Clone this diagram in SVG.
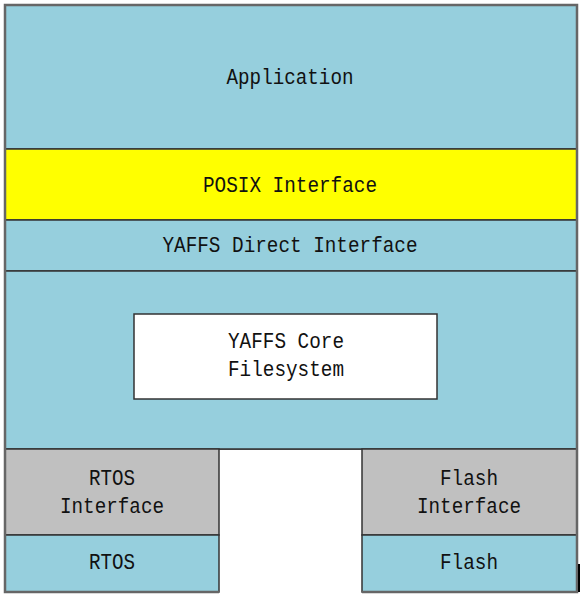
<svg xmlns="http://www.w3.org/2000/svg" width="582" height="600" viewBox="0 0 582 600">
<style>
.blue{fill:#96cfdd;stroke:#333;stroke-width:1.5}
.yellow{fill:#ffff00;stroke:#333;stroke-width:1.5}
.gray{fill:#c0c0c0;stroke:#333;stroke-width:1.5}
.white{fill:#fff;stroke:#333;stroke-width:1.5}
.outer{fill:none;stroke:#666;stroke-width:2.5}
text{font-family:"Liberation Mono","DejaVu Sans Mono",monospace;font-size:22px;fill:#111;text-anchor:middle}
</style>
<rect x="0" y="0" width="582" height="600" fill="#fff"/>
<g id="top-stack">
<rect class="blue" x="5" y="5" width="572" height="444"/>
</g>
<g id="application">
<rect class="blue" x="5" y="5" width="572" height="144"/>
<text x="290" y="84" textLength="127" lengthAdjust="spacingAndGlyphs">Application</text>
</g>
<g id="posix">
<rect class="yellow" x="5" y="149" width="572" height="71"/>
<text x="290" y="192" textLength="174" lengthAdjust="spacingAndGlyphs">POSIX Interface</text>
</g>
<g id="direct">
<rect class="blue" x="5" y="220" width="572" height="51"/>
<text x="290" y="252" textLength="255" lengthAdjust="spacingAndGlyphs">YAFFS Direct Interface</text>
</g>
<g id="core-layer">
<rect class="blue" x="5" y="271" width="572" height="178"/>
</g>
<g id="core">
<rect class="white" x="134" y="314" width="303" height="85"/>
<text x="286" y="348" textLength="116" lengthAdjust="spacingAndGlyphs">YAFFS Core</text>
<text x="286" y="376" textLength="116" lengthAdjust="spacingAndGlyphs">Filesystem</text>
</g>
<g id="rtos-interface">
<rect class="gray" x="5" y="449" width="214" height="86"/>
<text x="112" y="485" textLength="46" lengthAdjust="spacingAndGlyphs">RTOS</text>
<text x="112" y="513" textLength="104" lengthAdjust="spacingAndGlyphs">Interface</text>
</g>
<g id="rtos">
<rect class="blue" x="5" y="535" width="214" height="57"/>
<text x="112" y="569" textLength="46" lengthAdjust="spacingAndGlyphs">RTOS</text>
</g>
<g id="flash-interface">
<rect class="gray" x="362" y="449" width="215" height="86"/>
<text x="469" y="485" textLength="58" lengthAdjust="spacingAndGlyphs">Flash</text>
<text x="469" y="513" textLength="104" lengthAdjust="spacingAndGlyphs">Interface</text>
</g>
<g id="flash">
<rect class="blue" x="362" y="535" width="215" height="57"/>
<text x="469" y="569" textLength="58" lengthAdjust="spacingAndGlyphs">Flash</text>
</g>
<g id="outline">
<path class="outer" d="M5 449 V5 H577 V592 H362 M219 592 H5 V449"/>
</g>
<g id="connectors">
<line x1="579" y1="564" x2="579" y2="592" stroke="#000" stroke-width="2"/>
</g>
</svg>
